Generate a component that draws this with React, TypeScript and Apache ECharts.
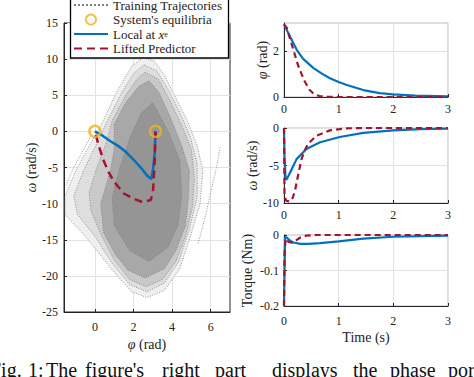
import React, { useEffect, useRef } from 'react';
import * as echarts from 'echarts';

const SERIF = 'Liberation Serif';

// tick labels
const phiTicks = [0, 2, 4, 6];
const omegaTicks = [-25, -20, -15, -10, -5, 0, 5, 10, 15];
const timeTicks = [0, 1, 2, 3];
const phiSubTicks = [0, 2];
const omegaSubTicks = [-10, -5, 0];
const torqueTicks = [-0.2, -0.1, 0];

// training trajectory cloud, nested envelopes [phi, omega]
const trajRing0 = [[2.5,10.2],[3.1,9.7],[3.6,7.8],[4.2,4.6],[4.8,1.4],[5.3,-2],[5.6,-5.5],[5.45,-10],[4.95,-14.5],[4.4,-19],[3.6,-22],[2.7,-23],[1.9,-22.2],[0.9,-19.2],[-0.4,-14.8],[-1.55,-11.5],[-1.55,-9],[-1.0,-5.5],[-0.4,-2.5],[0.25,0.5],[1.2,5.8],[1.9,9],[2.5,10.2]];
const trajRing1 = [[2.55,9.2],[3.2,8.4],[3.8,5.8],[4.4,2.6],[4.95,-0.8],[5.3,-4.5],[5.3,-9],[4.9,-13.5],[4.35,-18],[3.6,-21],[2.7,-22.2],[1.8,-21.2],[0.9,-18.3],[0,-14.5],[-0.9,-11.5],[-1.1,-9],[-0.6,-5.5],[0,-2.2],[0.6,1.2],[1.4,5.4],[2.0,8],[2.55,9.2]];
const trajRing2 = [[2.6,8.2],[3.3,7.2],[3.9,4.2],[4.5,0.8],[5.0,-2.5],[5.15,-6.5],[5.05,-10.5],[4.7,-14.5],[4.2,-18],[3.5,-20.5],[2.65,-21.5],[1.8,-20.5],[1.0,-17.8],[0.3,-14.2],[-0.2,-11],[-0.3,-8.5],[0.1,-5],[0.6,-1.5],[0.9,1.5],[1.6,5],[2.2,7.3],[2.6,8.2]];
const trajRing3 = [[2.8,7],[3.3,5.5],[3.9,2],[4.5,-2],[4.9,-5.5],[4.85,-9],[4.7,-13],[4.2,-16.5],[3.6,-19],[2.6,-20.3],[1.7,-19.2],[1.05,-17],[0.45,-14],[0.3,-10],[0.8,-5.5],[1.0,-2.5],[1.0,1],[1.6,4],[2.3,6.3],[2.8,7]];
const trajRing4 = [[3.0,4],[3.8,0],[4.4,-4],[4.5,-9],[4.3,-13],[3.8,-16],[2.8,-18],[1.8,-16.5],[1.0,-13],[0.9,-9],[1.3,-5],[1.8,-1],[2.4,2.5],[3.0,4]];
const trajSparseRight = [[5.35,-15.5],[5.7,-12],[6.0,-8.5],[6.3,-5],[6.5,-2]];
const trajSparseLeft = [[-1.5,-7.5],[-1.1,-5],[-0.6,-2.6],[-0.2,-0.6]];

const equilibria = [[0, 0], [3.14, 0]];

// phase-plane trajectories [phi, omega]
const localPhase = [[3.14,0],[3.1,-3],[3.0,-5.5],[2.92,-6.6],[2.7,-6.1],[2.47,-5.3],[2.1,-4.2],[1.63,-2.9],[1.2,-2.0],[0.77,-1.3],[0.4,-0.6],[0,0]];
const liftedPhase = [[3.14,0],[3.1,-4],[3.02,-8],[2.9,-9.5],[2.47,-9.8],[2.0,-9.3],[1.5,-8.6],[1.0,-7.0],[0.7,-5.6],[0.4,-3.7],[0.15,-1.5],[0,0]];

// time responses [t, value]
const localPhiT = [[0,3.14],[0.05,2.9],[0.11,2.62],[0.23,2.05],[0.35,1.65],[0.54,1.25],[0.7,1.0],[0.84,0.81],[1.0,0.65],[1.15,0.52],[1.45,0.3],[1.75,0.17],[2.0,0.11],[2.4,0.06],[3.0,0.03]];
const liftedPhiT = [[0,3.14],[0.05,3.0],[0.1,2.6],[0.17,2.05],[0.26,1.35],[0.32,1.0],[0.38,0.67],[0.47,0.3],[0.55,0.12],[0.65,0.04],[0.8,0.01],[1.0,0],[3.0,0]];
const localOmegaT = [[0,0],[0.01,-4],[0.03,-6.8],[0.05,-6.85],[0.14,-5.5],[0.23,-4.15],[0.41,-2.8],[0.66,-1.9],[1.02,-1.2],[1.45,-0.64],[2.0,-0.32],[2.5,-0.15],[3.0,-0.08]];
const liftedOmegaT = [[0,0],[0.01,-9.0],[0.04,-9.7],[0.1,-9.8],[0.16,-9.3],[0.2,-8.4],[0.26,-6.2],[0.32,-4.15],[0.38,-3.0],[0.44,-2.1],[0.6,-1.0],[0.84,-0.32],[1.15,-0.05],[1.5,0],[3.0,0]];
const localTorqueT = [[0,-0.2],[0.01,-0.1],[0.02,-0.006],[0.05,-0.007],[0.1,-0.015],[0.17,-0.021],[0.3,-0.025],[0.45,-0.025],[0.66,-0.023],[1.0,-0.018],[1.45,-0.01],[2.0,-0.005],[3.0,-0.002]];
const liftedTorqueT = [[0,-0.2],[0.01,-0.05],[0.03,-0.01],[0.08,-0.019],[0.15,-0.022],[0.22,-0.015],[0.3,-0.007],[0.4,-0.002],[0.6,0],[3.0,0]];

const captionWords = ['Fig.', '1:', 'The', "figure's", 'right', 'part', 'displays', 'the', 'phase', 'portrait'];
const captionX = [-10, 28, 46, 85, 162, 215, 272, 353, 390, 448];

const BLUE = '#0072BD';
const RED = '#A2142F';
const ORANGE = '#EDB120';
const AX = '#262626';

const NAME_TRAIN = 'Training Trajectories';
const NAME_EQ = "System's equilibria";
const NAME_LOCAL = 'Local at xe';
const NAME_LIFT = 'Lifted Predictor';

function fillSeries(points: number[][], color: string) {
  return {
    type: 'custom', xAxisIndex: 0, yAxisIndex: 0, silent: true, z: 1, clip: true,
    data: [points[0]],
    renderItem: (_p: any, api: any) => ({
      type: 'polygon',
      shape: { points: points.map((p) => api.coord(p)) },
      style: { fill: color, stroke: 'none' },
    }),
  };
}

function dotted(points: number[][], name?: string) {
  return {
    type: 'line', name, xAxisIndex: 0, yAxisIndex: 0, data: points, symbol: 'none', silent: true, z: 2,
    itemStyle: { color: '#7a7a7a' },
    lineStyle: { color: '#7a7a7a', width: 0.8, type: [1, 1.5] },
  };
}

function axisBase(extra: any) {
  return {
    type: 'value',
    axisLine: { show: true, onZero: false, lineStyle: { color: AX, width: 1 } },
    splitLine: { show: true, lineStyle: { color: '#e2e2e2', width: 1 } },
    nameTextStyle: { fontFamily: SERIF, fontSize: 14, color: '#222', rich: { i: { fontFamily: SERIF, fontStyle: 'italic', fontSize: 14, color: '#222' } } },
    ...extra,
    axisTick: { show: true, inside: true, length: 3, lineStyle: { color: AX }, ...(extra.axisTick || {}) },
    axisLabel: { fontFamily: SERIF, fontSize: 12, color: '#222', ...(extra.axisLabel || {}) },
  };
}

export default function App() {
  const ref = useRef<HTMLDivElement>(null);
  useEffect(() => {
    document.body.style.margin = '0';
    if (!ref.current) return;
    const chart = echarts.init(ref.current, undefined, { renderer: 'svg' });
    const gridsRight = { left: 284, width: 164, show: true, borderColor: '#bdbdbd', borderWidth: 1 };
    const hiddenSymbol = { opacity: 0 };
    const option: any = {
      animation: false,
      backgroundColor: '#fff',
      grid: [
        { left: 64, width: 166, top: 23, height: 289, show: true, borderColor: AX, borderWidth: 1 },
        { ...gridsRight, top: 23, height: 74 },
        { ...gridsRight, top: 128, height: 75 },
        { ...gridsRight, top: 235, height: 71 },
      ],
      xAxis: [
        axisBase({ gridIndex: 0, min: -1.6, max: 7, splitNumber: 4, name: '{i|φ} (rad)', nameLocation: 'middle', nameGap: 22,
          axisTick: { customValues: phiTicks }, axisLabel: { customValues: phiTicks, margin: 9 } }),
        axisBase({ gridIndex: 1, min: 0, max: 3, interval: 1, axisTick: { customValues: timeTicks }, axisLabel: { customValues: timeTicks, margin: 6 } }),
        axisBase({ gridIndex: 2, min: 0, max: 3, interval: 1, axisTick: { customValues: timeTicks }, axisLabel: { customValues: timeTicks, margin: 6 } }),
        axisBase({ gridIndex: 3, min: 0, max: 3, interval: 1, name: 'Time (s)', nameLocation: 'middle', nameGap: 24,
          axisTick: { customValues: timeTicks }, axisLabel: { customValues: timeTicks, margin: 9 } }),
      ],
      yAxis: [
        axisBase({ gridIndex: 0, min: -25, max: 15, interval: 5, name: '{i|ω} (rad/s)', nameLocation: 'middle', nameGap: 24,
          axisTick: { customValues: omegaTicks }, axisLabel: { customValues: omegaTicks, margin: 6 } }),
        axisBase({ gridIndex: 1, min: 0, max: 3.2, interval: 2, name: '{i|φ} (rad)', nameLocation: 'middle', nameGap: 8,
          axisTick: { customValues: phiSubTicks }, axisLabel: { customValues: phiSubTicks, margin: 5 } }),
        axisBase({ gridIndex: 2, min: -10, max: 0, interval: 5, name: '{i|ω} (rad/s)', nameLocation: 'middle', nameGap: 21,
          axisTick: { customValues: omegaSubTicks }, axisLabel: { customValues: omegaSubTicks, margin: 5 } }),
        axisBase({ gridIndex: 3, min: -0.2, max: 0, interval: 0.1, name: 'Torque (Nm)', nameLocation: 'middle', nameGap: 30,
          axisTick: { customValues: torqueTicks }, axisLabel: { customValues: torqueTicks, margin: 5 } }),
      ],
      legend: {
        orient: 'vertical', left: 70, top: -4, z: 20,
        padding: [2, 8, 3, 3], itemWidth: 34, itemHeight: 10, itemGap: 0.5,
        textStyle: { fontFamily: SERIF, fontSize: 13, color: '#222', lineHeight: 14,
          rich: { i: { fontFamily: SERIF, fontStyle: 'italic', fontSize: 13, color: '#222' }, s: { fontFamily: SERIF, fontSize: 8, color: '#222' } } },
        formatter: (n: string) => (n === NAME_LOCAL ? 'Local at {i|x}{s|e}' : n),
        data: [
          { name: NAME_TRAIN, itemStyle: hiddenSymbol, lineStyle: { color: '#808080', width: 2, type: [2, 2] } },
          { name: NAME_EQ },
          { name: NAME_LOCAL, itemStyle: hiddenSymbol },
          { name: NAME_LIFT, itemStyle: hiddenSymbol },
        ],
      },
      series: [
        fillSeries(trajRing0, '#efefef'),
        fillSeries(trajRing1, '#dedede'),
        fillSeries(trajRing2, '#c9c9c9'),
        fillSeries(trajRing3, '#a8a8a8'),
        fillSeries(trajRing4, '#959595'),
        dotted(trajSparseRight, NAME_TRAIN),
        dotted(trajSparseLeft),
        dotted(trajRing0),
        dotted(trajRing1),
        dotted(trajRing2),
        dotted(trajRing3),
        dotted(trajRing4),
        { type: 'line', name: NAME_LOCAL, xAxisIndex: 0, yAxisIndex: 0, data: localPhase, symbol: 'none', z: 3,
          itemStyle: { color: BLUE }, lineStyle: { color: BLUE, width: 2.5 } },
        { type: 'line', name: NAME_LIFT, xAxisIndex: 0, yAxisIndex: 0, data: liftedPhase, symbol: 'none', z: 4,
          itemStyle: { color: RED }, lineStyle: { color: RED, width: 2.5, type: [8, 5] } },
        { type: 'scatter', name: NAME_EQ, xAxisIndex: 0, yAxisIndex: 0, data: equilibria, symbol: 'circle', symbolSize: 11, z: 5,
          itemStyle: { color: 'rgba(255,255,255,0)', borderColor: ORANGE, borderWidth: 2.5 } },
        { type: 'line', name: NAME_LOCAL, xAxisIndex: 1, yAxisIndex: 1, data: localPhiT, symbol: 'none', z: 3, itemStyle: { color: BLUE }, lineStyle: { color: BLUE, width: 2.2 } },
        { type: 'line', name: NAME_LIFT, xAxisIndex: 1, yAxisIndex: 1, data: liftedPhiT, symbol: 'none', z: 4, itemStyle: { color: RED }, lineStyle: { color: RED, width: 2.2, type: [6, 4] } },
        { type: 'line', name: NAME_LOCAL, xAxisIndex: 2, yAxisIndex: 2, data: localOmegaT, symbol: 'none', z: 3, itemStyle: { color: BLUE }, lineStyle: { color: BLUE, width: 2.2 } },
        { type: 'line', name: NAME_LIFT, xAxisIndex: 2, yAxisIndex: 2, data: liftedOmegaT, symbol: 'none', z: 4, itemStyle: { color: RED }, lineStyle: { color: RED, width: 2.2, type: [6, 4] } },
        { type: 'line', name: NAME_LOCAL, xAxisIndex: 3, yAxisIndex: 3, data: localTorqueT, symbol: 'none', z: 3, itemStyle: { color: BLUE }, lineStyle: { color: BLUE, width: 2.2 } },
        { type: 'line', name: NAME_LIFT, xAxisIndex: 3, yAxisIndex: 3, data: liftedTorqueT, symbol: 'none', z: 4, itemStyle: { color: RED }, lineStyle: { color: RED, width: 2.2, type: [6, 4] } },
      ],
      graphic: [
        { type: 'rect', z: 15, silent: true, shape: { x: 70.5, y: -3.5, width: 158, height: 61.5 },
          style: { fill: '#ffffff', stroke: '#000000', lineWidth: 1.3 } },
        ...captionWords.map((w, i) => ({
          type: 'text', x: captionX[i], y: 380, silent: true,
          style: { text: w, fontFamily: SERIF, fontSize: 20, fill: '#111', verticalAlign: 'bottom' },
        })),
      ],
    };
    chart.setOption(option);
    return () => chart.dispose();
  }, []);
  return <div ref={ref} style={{ width: 474, height: 377 }} />;
}
